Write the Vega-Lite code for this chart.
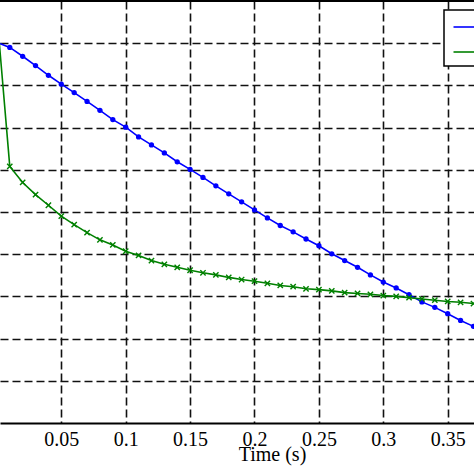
{
  "$schema": "https://vega.github.io/schema/vega-lite/v6.json",
  "width": 474,
  "height": 422,
  "autosize": {"type": "none"},
  "padding": {"left": 0, "top": 1, "right": 0, "bottom": 51},
  "background": "white",
  "config": {
    "view": {"stroke": null},
    "axis": {
      "grid": true,
      "gridColor": "#111111",
      "gridDash": [8, 4],
      "gridWidth": 1.6,
      "ticks": false,
      "labelFont": "Liberation Serif",
      "labelFontSize": 20,
      "labelColor": "black",
      "titleFont": "Liberation Serif",
      "titleFontSize": 20,
      "titleFontWeight": "normal",
      "titleColor": "black"
    },
    "legend": {
      "orient": "none",
      "legendX": 444,
      "legendY": 9,
      "strokeColor": "black",
      "strokeWidth": 1.5,
      "fillColor": "white",
      "padding": 4,
      "symbolType": "stroke",
      "symbolSize": 576,
      "symbolStrokeWidth": 1.6,
      "symbolOffset": 4.5,
      "rowPadding": 2,
      "labelFont": "Liberation Serif",
      "labelFontSize": 20,
      "labelColor": "black",
      "title": null
    }
  },
  "data": {
    "values": [
      {"t": 0.00, "v": 9.02, "series": "Case 1"},
      {"t": 0.01, "v": 8.90, "series": "Case 1"},
      {"t": 0.02, "v": 8.69, "series": "Case 1"},
      {"t": 0.03, "v": 8.47, "series": "Case 1"},
      {"t": 0.04, "v": 8.24, "series": "Case 1"},
      {"t": 0.05, "v": 8.03, "series": "Case 1"},
      {"t": 0.06, "v": 7.83, "series": "Case 1"},
      {"t": 0.07, "v": 7.62, "series": "Case 1"},
      {"t": 0.08, "v": 7.41, "series": "Case 1"},
      {"t": 0.09, "v": 7.19, "series": "Case 1"},
      {"t": 0.10, "v": 7.01, "series": "Case 1"},
      {"t": 0.11, "v": 6.78, "series": "Case 1"},
      {"t": 0.12, "v": 6.59, "series": "Case 1"},
      {"t": 0.13, "v": 6.40, "series": "Case 1"},
      {"t": 0.14, "v": 6.19, "series": "Case 1"},
      {"t": 0.15, "v": 6.01, "series": "Case 1"},
      {"t": 0.16, "v": 5.82, "series": "Case 1"},
      {"t": 0.17, "v": 5.62, "series": "Case 1"},
      {"t": 0.18, "v": 5.43, "series": "Case 1"},
      {"t": 0.19, "v": 5.24, "series": "Case 1"},
      {"t": 0.20, "v": 5.05, "series": "Case 1"},
      {"t": 0.21, "v": 4.86, "series": "Case 1"},
      {"t": 0.22, "v": 4.68, "series": "Case 1"},
      {"t": 0.23, "v": 4.53, "series": "Case 1"},
      {"t": 0.24, "v": 4.36, "series": "Case 1"},
      {"t": 0.25, "v": 4.20, "series": "Case 1"},
      {"t": 0.26, "v": 4.01, "series": "Case 1"},
      {"t": 0.27, "v": 3.85, "series": "Case 1"},
      {"t": 0.28, "v": 3.69, "series": "Case 1"},
      {"t": 0.29, "v": 3.51, "series": "Case 1"},
      {"t": 0.30, "v": 3.34, "series": "Case 1"},
      {"t": 0.31, "v": 3.20, "series": "Case 1"},
      {"t": 0.32, "v": 3.04, "series": "Case 1"},
      {"t": 0.33, "v": 2.87, "series": "Case 1"},
      {"t": 0.34, "v": 2.74, "series": "Case 1"},
      {"t": 0.35, "v": 2.59, "series": "Case 1"},
      {"t": 0.36, "v": 2.43, "series": "Case 1"},
      {"t": 0.37, "v": 2.29, "series": "Case 1"},
      {"t": 0.38, "v": 2.14, "series": "Case 1"},
      {"t": 0.00, "v": 9.68, "series": "Case 2"},
      {"t": 0.01, "v": 6.08, "series": "Case 2"},
      {"t": 0.02, "v": 5.70, "series": "Case 2"},
      {"t": 0.03, "v": 5.41, "series": "Case 2"},
      {"t": 0.04, "v": 5.16, "series": "Case 2"},
      {"t": 0.05, "v": 4.90, "series": "Case 2"},
      {"t": 0.06, "v": 4.70, "series": "Case 2"},
      {"t": 0.07, "v": 4.51, "series": "Case 2"},
      {"t": 0.08, "v": 4.34, "series": "Case 2"},
      {"t": 0.09, "v": 4.22, "series": "Case 2"},
      {"t": 0.10, "v": 4.07, "series": "Case 2"},
      {"t": 0.11, "v": 3.97, "series": "Case 2"},
      {"t": 0.12, "v": 3.85, "series": "Case 2"},
      {"t": 0.13, "v": 3.76, "series": "Case 2"},
      {"t": 0.14, "v": 3.69, "series": "Case 2"},
      {"t": 0.15, "v": 3.62, "series": "Case 2"},
      {"t": 0.16, "v": 3.56, "series": "Case 2"},
      {"t": 0.17, "v": 3.51, "series": "Case 2"},
      {"t": 0.18, "v": 3.45, "series": "Case 2"},
      {"t": 0.19, "v": 3.40, "series": "Case 2"},
      {"t": 0.20, "v": 3.36, "series": "Case 2"},
      {"t": 0.21, "v": 3.31, "series": "Case 2"},
      {"t": 0.22, "v": 3.26, "series": "Case 2"},
      {"t": 0.23, "v": 3.23, "series": "Case 2"},
      {"t": 0.24, "v": 3.18, "series": "Case 2"},
      {"t": 0.25, "v": 3.16, "series": "Case 2"},
      {"t": 0.26, "v": 3.13, "series": "Case 2"},
      {"t": 0.27, "v": 3.09, "series": "Case 2"},
      {"t": 0.28, "v": 3.07, "series": "Case 2"},
      {"t": 0.29, "v": 3.05, "series": "Case 2"},
      {"t": 0.30, "v": 3.02, "series": "Case 2"},
      {"t": 0.31, "v": 3.00, "series": "Case 2"},
      {"t": 0.32, "v": 2.97, "series": "Case 2"},
      {"t": 0.33, "v": 2.94, "series": "Case 2"},
      {"t": 0.34, "v": 2.91, "series": "Case 2"},
      {"t": 0.35, "v": 2.88, "series": "Case 2"},
      {"t": 0.36, "v": 2.86, "series": "Case 2"},
      {"t": 0.37, "v": 2.83, "series": "Case 2"},
      {"t": 0.38, "v": 2.81, "series": "Case 2"}
    ]
  },
  "encoding": {
    "x": {
      "field": "t",
      "type": "quantitative",
      "scale": {"domain": [0.00241, 0.37042], "nice": false, "zero": false},
      "axis": {
        "values": [0.05, 0.1, 0.15, 0.2, 0.25, 0.3, 0.35],
        "format": "~g",
        "domain": true,
        "domainColor": "black",
        "domainWidth": 2,
        "labelBaseline": "alphabetic",
        "labelPadding": 22.5,
        "labelFlush": false,
        "labelOverlap": false,
        "title": "Time (s)",
        "titleBaseline": "alphabetic",
        "titleAnchor": "start",
        "titleAlign": "center",
        "titleX": 272,
        "titleY": 37.5
      }
    },
    "y": {
      "field": "v",
      "type": "quantitative",
      "scale": {"domain": [0, 10], "nice": false, "zero": false},
      "axis": {
        "values": [1, 2, 3, 4, 5, 6, 7, 8, 9],
        "domain": false,
        "labels": false,
        "title": null
      }
    }
  },
  "layer": [
    {
      "mark": {"type": "rule", "color": "black", "strokeWidth": 2},
      "encoding": {"y": {"datum": 10}, "x": null}
    },
    {
      "mark": {"type": "line", "strokeWidth": 1.6, "clip": true},
      "encoding": {
        "color": {
          "field": "series",
          "type": "nominal",
          "scale": {"domain": ["Case 1", "Case 2"], "range": ["#0000ff", "#008000"]}
        }
      }
    },
    {
      "transform": [{"filter": "datum.series == 'Case 1'"}],
      "mark": {"type": "point", "shape": "circle", "filled": true, "size": 28, "opacity": 1, "color": "#0000ff", "clip": true}
    },
    {
      "transform": [{"filter": "datum.series == 'Case 2'"}],
      "mark": {"type": "point", "shape": "M-1,-1L1,1M-1,1L1,-1", "filled": false, "size": 28, "strokeWidth": 1.4, "opacity": 1, "color": "#008000", "clip": true}
    }
  ]
}
